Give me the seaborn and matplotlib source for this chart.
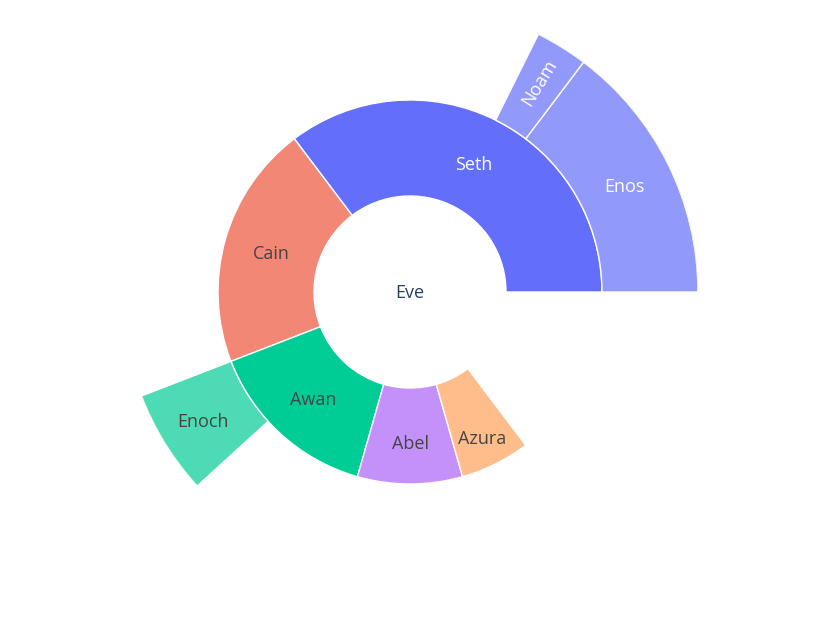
import matplotlib.pyplot as plt
import matplotlib.colors as mcolors
import matplotlib.transforms as mtransforms
import numpy as np
import seaborn as sns

# sunburst data: Eve's family
labels = ["Eve", "Cain", "Seth", "Enos", "Noam", "Abel", "Awan", "Enoch", "Azura"]
parents = ["", "Eve", "Eve", "Seth", "Seth", "Eve", "Eve", "Awan", "Eve"]
values = [10, 14, 12, 10, 2, 6, 6, 4, 4]

colorway = ["#636efa", "#EF553B", "#00cc96", "#ab63fa", "#FFA15A"]

sns.set_theme(style="white")
plt.rcParams["font.family"] = ["Open Sans", "DejaVu Sans"]

children = {lab: [] for lab in labels}
for lab, par in zip(labels, parents):
    if par:
        children[par].append(lab)
own = dict(zip(labels, values))


def total(lab):
    return own[lab] + sum(total(c) for c in children[lab])


def brightness(c):
    r, g, b = [v * 255 for v in mcolors.to_rgb(c)]
    return (r * 299 + g * 587 + b * 114) / 1000


fig = plt.figure(figsize=(8.14, 6.19), dpi=100)
ax = fig.add_axes([122 / 814, 39 / 619, 576 / 814, 576 / 619], projection="polar")
ax.set_ylim(0, 3)
ax.set_axis_off()
# plotly centres the text box incl. descent, so glyphs sit a bit lower
txt_tr = mtransforms.offset_copy(ax.transData, fig=fig, x=0, y=-1.5, units="dots")

root = "Eve"
root_total = total(root)
scale = 2 * np.pi / root_total


def draw(lab, start, level, color):
    span = total(lab) * scale
    leaf = len(children[lab]) == 0
    face = mcolors.to_rgba(color, 0.7 if leaf else 1.0)
    ax.bar(start + span / 2, 1, width=span, bottom=level, color=face,
           edgecolor="white", linewidth=1, align="center")
    mid = start + span / 2
    txt_col = "white" if brightness(color) < 128 else "#444444"
    outer = level + 1
    if span < 0.25:
        # too thin: write radially
        ax.text(mid, level + 0.56, lab, ha="center", va="center", fontsize=13,
                color=txt_col, rotation=np.degrees(mid), rotation_mode="anchor")
    else:
        # centre of circle inscribed in the slice
        s = np.sin(span / 2)
        r = outer / (1 + s)
        if outer * s / (1 + s) >= 0.5:
            r = level + 0.5
        ax.text(mid, r, lab, ha="center", va="center", fontsize=13,
                color=txt_col, transform=txt_tr)
    a = start
    for c in sorted(children[lab], key=total, reverse=True):
        draw(c, a, level + 1, color)
        a += total(c) * scale


ax.text(0, 0, root, ha="center", va="center", fontsize=13, color="#2a3f5f",
        transform=txt_tr)
ang = 0.0
for i, c in enumerate(sorted(children[root], key=total, reverse=True)):
    draw(c, ang, 1, colorway[i % len(colorway)])
    ang += total(c) * scale

fig.savefig("out.png", dpi=100)
